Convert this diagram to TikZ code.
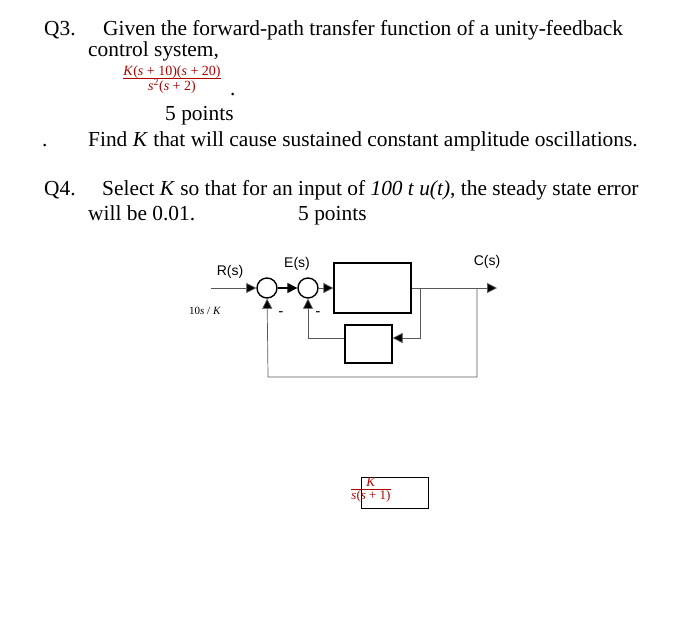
\documentclass[tikz,border=0pt]{standalone}
\usepackage{fontspec}
\setmainfont{Liberation Serif}
\newfontfamily\sansf{Liberation Sans}
\usetikzlibrary{arrows.meta}
\begin{document}
\begin{tikzpicture}[x=1pt,y=-1pt,
  txt/.style={anchor=base west,inner sep=0pt,font=\fontsize{21.4}{23}\selectfont},
  red/.style={text=red!70!black},
  sum/.style={draw,circle,minimum size=20pt,inner sep=0pt,line width=1.4pt},
  blk/.style={draw,line width=1.2pt,inner sep=0pt},
  sig/.style={gray!70!black,line width=0.7pt},
  arr/.style={-{Triangle[length=10pt,width=10pt,fill=black]}},
  lab/.style={inner sep=0pt,font=\sansf\fontsize{14}{15}\selectfont}]
\useasboundingbox (0,0) rectangle (700,624);
\node[txt] (q3) at (44,35) {Q3.};
\node[txt] (l1) at (103,35) {Given the forward-path transfer function of a unity-feedback};
\node[txt] (l2) at (88,56) {control system,};
\node[red,inner sep=0pt,font=\fontsize{14}{15}\selectfont] (tf) at (172,80) {\begin{tabular}{@{}c@{}}\textit{K}(\textit{s} + 10)(\textit{s} + 20)\\[-2pt]\hline \textit{s}\textsuperscript{2}(\textit{s} + 2)\end{tabular}};
\node[txt] (dot1) at (230,95) {.};
\node[txt] (p1) at (165,120) {5 points};
\node[txt] (dot2) at (42,146) {.};
\node[txt] (l3) at (88,146) {Find \textit{K} that will cause sustained constant amplitude oscillations.};
\node[txt] (q4) at (44,195) {Q4.};
\node[txt] (l4) at (102,195) {Select \textit{K} so that for an input of \textit{100 t u(t)}, the steady state error};
\node[txt] (l5) at (88,220) {will be 0.01.};
\node[txt] (p2) at (298,220) {5 points};
% block diagram
\coordinate (in) at (211,288);
\node[sum] (s1) at (267,288) {};
\node[sum] (s2) at (308,288) {};
\node[blk,minimum width=77pt,minimum height=50pt] (g) at (372.5,288) {};
\node[blk,minimum width=47pt,minimum height=38pt] (h) at (368.5,344) {};
\coordinate (out) at (497,288);
\coordinate (t1) at (420,288);
\coordinate (t2) at (477,288);
\draw[sig,arr] (in) -- (s1);
\draw[line width=1.4pt,arr] (s1) -- (s2);
\draw[sig,arr] (s2) -- (g);
\draw[sig,arr] (g) -- (out);
\draw[sig,arr] (t1) |- (h.east |- 0,338);
\draw[sig,arr] (h.west |- 0,338) -| (s2);
\draw[sig,arr] (t2) |- (268,377) -- (s1);
\node[lab] (rl) at (230,272) {R(s)};
\node[lab] (el) at (297,264) {E(s)};
\node[lab] (cl) at (487,262) {C(s)};
\node[inner sep=0pt,font=\fontsize{11}{12}\selectfont] (ks) at (205,311) {10\textit{s} / \textit{K}};
\node[inner sep=0pt,font=\bfseries\fontsize{14}{14}\selectfont] (m1) at (281,314) {-};
\node[inner sep=0pt,font=\bfseries\fontsize{14}{14}\selectfont] (m2) at (318,314) {-};
\node[blk,line width=1pt,minimum width=67pt,minimum height=31pt] (b2) at (394.5,492.5) {};
\node[red,inner sep=0pt,font=\fontsize{13}{14}\selectfont] (kf) at (371,490) {\begin{tabular}{@{}c@{}}\textit{K}\hspace{2.5em}\\[-2pt]\hline \textit{s}(\textit{s} + 1)\end{tabular}};
\end{tikzpicture}
\end{document}
